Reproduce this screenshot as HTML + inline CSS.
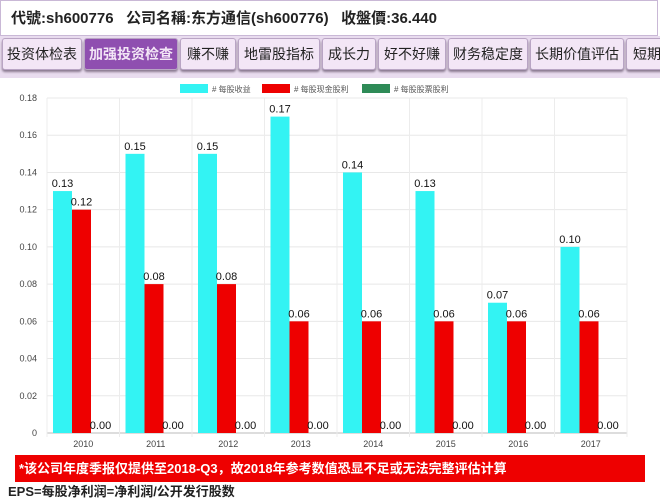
<!DOCTYPE html>
<html><head><meta charset="utf-8"><style>
body{margin:0;width:660px;height:497px;overflow:hidden;background:#fff;font-family:"Liberation Sans","Noto Sans CJK SC",sans-serif;}
#hdr{position:absolute;left:0;top:0;width:658px;height:36px;border:1px solid #c9b8d6;background:#fff;font-size:15px;font-weight:bold;line-height:36px;padding-left:10px;box-sizing:border-box;color:#222}
#tabs{position:absolute;left:0;top:36px;width:660px;height:42px;background:#e9dcef}
.tab{position:absolute;top:2px;height:30px;line-height:30px;background:#f3e6f6;border:1px solid #b9a5c4;border-radius:3px;font-size:14px;text-align:center;color:#222;box-shadow:0 2px 2px #8a7a90}
.tab.on{background:#8f4fb0;color:#f3e6f6;font-weight:bold}
#banner{position:absolute;left:15px;top:455px;width:630px;height:27px;background:#ee0000;color:#fff;font-weight:bold;font-size:13px;line-height:27px;padding-left:4px;box-sizing:border-box}
#eps{position:absolute;left:8px;top:481px;font-size:13px;font-weight:bold;color:#222}
</style></head><body>
<div id="hdr">代號:sh600776&nbsp;&nbsp; 公司名稱:东方通信(sh600776)&nbsp;&nbsp; 收盤價:36.440</div>
<div id="tabs">
<div class="tab" style="left:2px;width:78px">投资体检表</div>
<div class="tab on" style="left:84px;width:92px">加强投资检查</div>
<div class="tab" style="left:180px;width:54px">赚不赚</div>
<div class="tab" style="left:238px;width:80px">地雷股指标</div>
<div class="tab" style="left:322px;width:52px">成长力</div>
<div class="tab" style="left:378px;width:66px">好不好赚</div>
<div class="tab" style="left:448px;width:78px">财务稳定度</div>
<div class="tab" style="left:530px;width:92px">长期价值评估</div>
<div class="tab" style="left:626px;width:50px;text-align:left;padding-left:6px">短期</div>
</div>
<svg id="chart" width="660" height="375" style="position:absolute;left:0;top:80px"></svg>
<div id="banner">*该公司年度季报仅提供至2018-Q3，故2018年参考数值恐显不足或无法完整评估计算</div>
<div id="eps">EPS=每股净利润=净利润/公开发行股数</div>
<script>
const categories=["2010","2011","2012","2013","2014","2015","2016","2017"];
const eps=[0.13,0.15,0.15,0.17,0.14,0.13,0.07,0.10];
const cashDiv=[0.12,0.08,0.08,0.06,0.06,0.06,0.06,0.06];
const stockDiv=[0,0,0,0,0,0,0,0];
const yTicks=[0,0.02,0.04,0.06,0.08,0.10,0.12,0.14,0.16,0.18];
const yTickLabels=["0","0.02","0.04","0.06","0.08","0.10","0.12","0.14","0.16","0.18"];
const legendNames=["# 每股收益","# 每股现金股利","# 每股股票股利"];
const NS="http://www.w3.org/2000/svg";
const svg=document.getElementById('chart');
const OY=80;
const x0=47,gw=72.5,y0=433-OY,yTop=98-OY;
const yS=v=>y0-(v/0.18)*(y0-yTop);
const xG=i=>x0+i*gw;
function mk(t,a,p){const e=document.createElementNS(NS,t);for(const k in a)e.setAttribute(k,a[k]);(p||svg).appendChild(e);return e;}
yTicks.forEach((v,i)=>{
 const l=mk('line',{x1:x0,x2:x0+8*gw,y1:yS(v),y2:yS(v),stroke:i?'#e8e8e8':'#bbb'});
 
 
 const t=mk('text',{x:x0-10,y:yS(v)+3,'text-anchor':'end','font-size':9,fill:'#444'});
 t.textContent=yTickLabels[i];
 
 
});
for(let i=0;i<=8;i++){const l=mk('line',{x1:xG(i),x2:xG(i),y1:yTop,y2:y0+4,stroke:'#ececec'});
 
 }
categories.forEach((c,i)=>{
 const gx=xG(i),bw=19;
 const series=[[eps[i],'#33f3f3',6],[cashDiv[i],'#ee0000',6+bw],[stockDiv[i],'#2e8b57',6+2*bw]];
 series.forEach((s,j)=>{
  const r=mk('rect',{x:gx+s[2],y:yS(s[0]),width:bw,height:y0-yS(s[0]),fill:s[1]});
  
  
  const t=mk('text',{x:gx+s[2]+bw/2,y:yS(s[0])-4,'text-anchor':'middle','font-size':11,fill:'#111'});
  t.textContent=s[0].toFixed(2);
  
  
 });
 const t=mk('text',{x:gx+gw/2,y:y0+14,'text-anchor':'middle','font-size':9,fill:'#444'});
 t.textContent=c;
 
 
});
const lc=['#33f3f3','#ee0000','#2e8b57'],lx=[180,262,362];
legendNames.forEach((n,i)=>{
 const g=mk('g',{});
 
 
 mk('rect',{x:lx[i],y:4,width:28,height:9,fill:lc[i]},g);
 const t=mk('text',{x:lx[i]+32,y:12,'font-size':8,fill:'#555'},g);t.textContent=n;
});
</script>
</body></html>
